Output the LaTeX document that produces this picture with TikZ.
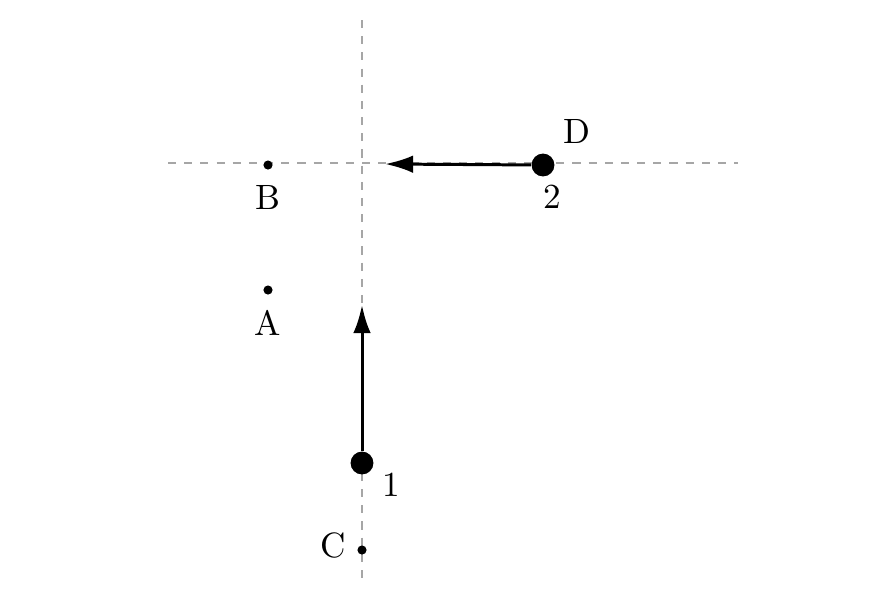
\documentclass[tikz,border=0pt]{standalone}
\usetikzlibrary{arrows.meta}
\begin{document}
\begin{tikzpicture}[x=0.01cm,y=-0.01cm,
  guide/.style={gray!70,line width=0.4pt,dash pattern=on 2.3pt off 2.3pt},
  small/.style={circle,fill=black,inner sep=0pt,minimum size=2.6pt},
  big/.style={circle,fill=black,inner sep=0pt,minimum size=6.5pt},
  vec/.style={line width=0.85pt,-{Latex[length=8pt,width=5pt]}},
  lbl/.style={font=\normalsize}]
\useasboundingbox (0,0) rectangle (879,602);
\coordinate (vt) at (362,20); \coordinate (vb) at (362,585);
\coordinate (hl) at (168,163); \coordinate (hr) at (738,163);
\draw[guide] (vt) -- (vb);
\draw[guide] (hl) -- (hr);
\node[small] (B) at (268,165) {};
\node[small] (A) at (268,290) {};
\node[small] (C) at (362,550) {};
\node[big] (p1) at (362,463) {};
\node[big] (p2) at (543,165) {};
\coordinate (t1) at (362,305);
\coordinate (t2) at (385,164);
\draw[vec] (p1) -- (t1);
\draw[vec] (p2) -- (t2);
\node[lbl] (lB) at (268,197) {B};
\node[lbl] (lA) at (268,323) {A};
\node[lbl] (lC) at (333,545) {C};
\node[lbl] (l1) at (391,485) {1};
\node[lbl] (l2) at (552,197) {2};
\node[lbl] (lD) at (577,131) {D};
\end{tikzpicture}
\end{document}
